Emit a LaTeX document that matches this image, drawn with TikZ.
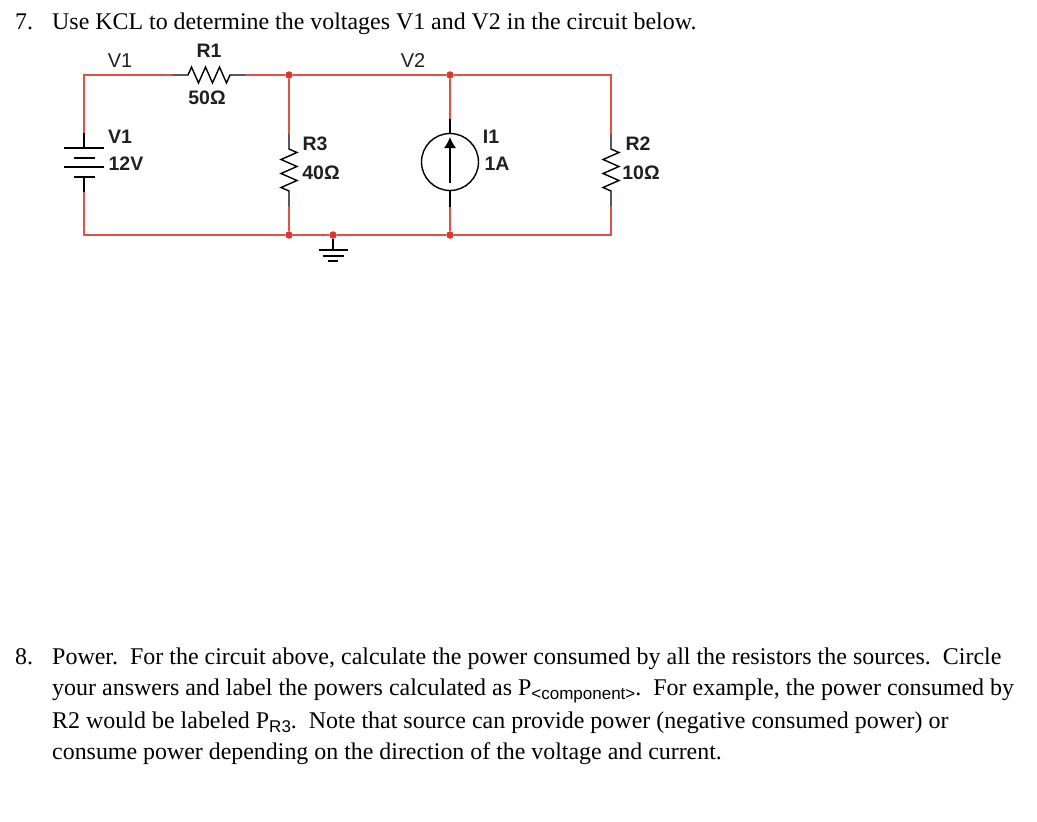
\documentclass[tikz,border=0pt]{standalone}
\usepackage{fontspec}
\usetikzlibrary{arrows.meta}
\setmainfont{Liberation Serif}
\setsansfont{Liberation Sans}
\definecolor{wirered}{HTML}{E2504A}
\definecolor{dotred}{HTML}{E0352B}
\definecolor{labelgray}{HTML}{202020}
\tikzset{
    wire/.style={draw=wirered, line width=2pt},
    lead/.style={draw=black, line width=1.4pt},
    junction/.style={circle, fill=dotred, inner sep=0pt, minimum size=7.5pt},
    para/.style={anchor=base west, inner sep=0pt, font=\fontsize{23.9}{24}\selectfont},
    widepara/.style={para, font=\fontsize{23.97}{24}\selectfont},
    namelabel/.style={font=\sffamily\bfseries\fontsize{19.5}{20}\selectfont, text=labelgray, inner sep=0pt},
    nodelabel/.style={font=\sffamily\fontsize{20}{20}\selectfont, text=labelgray, inner sep=0pt},
    resistor/.pic={
        \draw[lead] (0,0) -- (15,0) -- (18.5,-8) -- (25.5,8) -- (32.5,-8) -- (39.5,8) -- (46.5,-8) -- (53.5,8) -- (57,0) -- (72,0);
    }
}
\newcommand{\subtext}[1]{\raisebox{-4pt}{\sffamily\fontsize{17}{17}\selectfont #1}}
\begin{document}
\begin{tikzpicture}[x=1pt, y=-1pt]
    \useasboundingbox (0,0) rectangle (1037,822);
    % question 7
    \node[para] (num7) at (15,29) {7.};
    \node[para] (q7) at (52,29) {Use KCL to determine the voltages V1 and V2 in the circuit below.};
    % corners and junctions
    \coordinate (tl) at (84,75);
    \coordinate (bl) at (84,235);
    \coordinate (tr) at (611,75);
    \coordinate (br) at (611,235);
    \node[junction] (top3) at (289,75) {};
    \node[junction] (top1) at (450,75) {};
    \node[junction] (bot3) at (289,235) {};
    \node[junction] (bot1) at (450,235) {};
    \node[junction] (botg) at (333,235) {};
    % component ends
    \coordinate (r1a) at (173,75);
    \coordinate (r1b) at (245,75);
    \coordinate (r3a) at (289,134);
    \coordinate (r3b) at (289,206);
    \coordinate (r2a) at (611,134);
    \coordinate (r2b) at (611,206);
    \coordinate (bata) at (84,133);
    \coordinate (batb) at (84,192);
    \coordinate (sra) at (450,207);
    \coordinate (srb) at (450,119);
    % wires
    \draw[wire] (bata) -- (tl) -- (r1a);
    \draw[wire] (r1b) -- (top3) -- (top1) -- (tr) -- (r2a);
    \draw[wire] (r2b) -- (br) -- (bot1) -- (botg) -- (bot3) -- (bl) -- (batb);
    \draw[wire] (top3) -- (r3a);
    \draw[wire] (r3b) -- (bot3);
    \draw[wire] (top1) -- (srb);
    \draw[wire] (sra) -- (bot1);
    % resistors
    \pic at (r1a) {resistor};
    \pic[rotate=-90] at (r3a) {resistor};
    \pic[rotate=-90] at (r2a) {resistor};
    % battery
    \draw[lead] (bata) -- (84,148) (64,148) -- (104,148);
    \draw[lead] (74,158) -- (95,158);
    \draw[lead] (64,167) -- (104,167);
    \draw[lead] (74,177) -- (95,177);
    \draw[lead] (84,177) -- (batb);
    % current source
    \node[circle, draw=black, line width=1.4pt, minimum size=57pt, inner sep=0pt] (src) at (450,162) {};
    \draw[lead] (srb) -- (src.north);
    \draw[lead] (src.south) -- (sra);
    \draw[lead, -{Latex[length=11pt, width=12pt]}] (450,183) -- (450,137);
    % ground
    \coordinate (gnd) at (333,250);
    \draw[lead] (botg) -- (gnd);
    \draw[lead] (319,250) -- (348,250);
    \draw[lead] (323,256) -- (344,256);
    \draw[lead] (328,261) -- (338,261);
    % labels
    \node[nodelabel] (lv1) at (120,61) {V1};
    \node[nodelabel] (lv2) at (413,61) {V2};
    \node[namelabel] (lr1) at (209,51) {R1};
    \node[namelabel] (vr1) at (207,98) {50Ω};
    \node[namelabel] (nv1) at (120,137) {V1};
    \node[namelabel] (vv1) at (126,164) {12V};
    \node[namelabel] (lr3) at (315,144) {R3};
    \node[namelabel] (vr3) at (321,173) {40Ω};
    \node[namelabel] (li1) at (491,137) {I1};
    \node[namelabel] (vi1) at (497,164) {1A};
    \node[namelabel] (lr2) at (638,144) {R2};
    \node[namelabel] (vr2) at (641,173) {10Ω};
    % question 8
    \node[para] (num8) at (15,664) {8.};
    \node[widepara] (q8a) at (52,664) {Power.\ \ For the circuit above, calculate the power consumed by all the resistors the sources.\ \ Circle};
    \node[widepara] (q8b) at (52,695) {your answers and label the powers calculated as P\subtext{<component>}.\ \ For example, the power consumed by};
    \node[widepara] (q8c) at (52,728) {R2 would be labeled P\subtext{R3}.\ \ Note that source can provide power (negative consumed power) or};
    \node[para] (q8d) at (52,759) {consume power depending on the direction of the voltage and current.};
\end{tikzpicture}
\end{document}
